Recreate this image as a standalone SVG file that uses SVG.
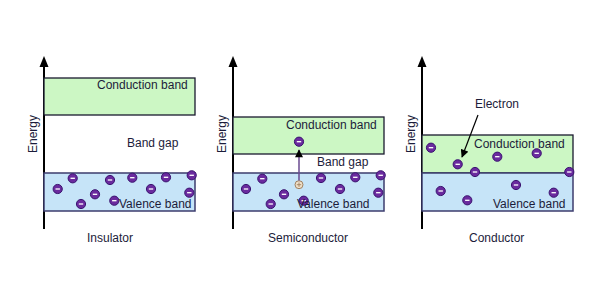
<svg xmlns="http://www.w3.org/2000/svg" width="600" height="300" viewBox="0 0 600 300">
<defs>
<style>
text{font-family:"Liberation Sans",Arial,sans-serif;font-size:12px;fill:#1c1c3a}
.cb{fill:#ccf7c4;stroke:#1a1a2e;stroke-width:1.3}
.vb{fill:#c6e4f8;stroke:#3c3c6e;stroke-width:1.5}
.ax{stroke:#000;stroke-width:2;fill:none}
.ah{fill:#000}
</style>
<g id="e">
<circle r="4.6" fill="#6a2a9e" stroke="#3a1470" stroke-width="1"/>
<line x1="-2.2" y1="0" x2="2.2" y2="0" stroke="#fff" stroke-width="1.3"/>
</g>
<marker id="arr" viewBox="0 0 10 10" refX="9" refY="5" markerWidth="9" markerHeight="8" markerUnits="userSpaceOnUse" orient="auto-start-reverse">
<path d="M0,0 L10,5 L0,10 z" fill="#000"/>
</marker>
</defs>
<rect width="600" height="300" fill="#fff"/>

<g id="insulator">
<line class="ax" x1="44" y1="66" x2="44" y2="229"/>
<polygon class="ah" points="44,56 39.5,67 48.5,67"/>
<rect class="cb" x="44" y="78" width="151" height="37"/>
<rect class="vb" x="44" y="173" width="151" height="38"/>
<text x="97" y="89">Conduction band</text>
<text x="127" y="147">Band gap</text>
<text transform="translate(37,134) rotate(-90)" text-anchor="middle">Energy</text>
<use href="#e" x="72.7" y="178.3"/>
<use href="#e" x="57.7" y="189"/>
<use href="#e" x="81" y="204"/>
<use href="#e" x="95" y="194.3"/>
<use href="#e" x="110" y="180"/>
<use href="#e" x="114.3" y="200.7"/>
<use href="#e" x="132.3" y="177.7"/>
<use href="#e" x="151" y="189"/>
<use href="#e" x="166" y="177.3"/>
<use href="#e" x="191.7" y="175.3"/>
<use href="#e" x="189.3" y="192.7"/>
<text x="119" y="208">Valence band</text>
<text x="87" y="242">Insulator</text>
</g>

<g id="semiconductor">
<line class="ax" x1="233" y1="66" x2="233" y2="229"/>
<polygon class="ah" points="233,56 228.5,67 237.5,67"/>
<rect class="cb" x="233" y="117" width="151" height="37"/>
<rect class="vb" x="233" y="173" width="151" height="38"/>
<text x="286" y="129">Conduction band</text>
<text x="317" y="166">Band gap</text>
<text transform="translate(226,134) rotate(-90)" text-anchor="middle">Energy</text>
<use href="#e" x="299" y="141.7"/>
<use href="#e" x="262.3" y="178.7"/>
<use href="#e" x="246" y="189"/>
<use href="#e" x="270.7" y="204"/>
<use href="#e" x="284" y="194.3"/>
<use href="#e" x="303.7" y="200.7"/>
<use href="#e" x="321" y="178"/>
<use href="#e" x="340" y="189"/>
<use href="#e" x="355.3" y="177.3"/>
<use href="#e" x="380.7" y="175.3"/>
<use href="#e" x="378.3" y="192.7"/>
<g id="hole">
<circle cx="299" cy="184.7" r="4" fill="#efe0c8" stroke="#a08060" stroke-width="1"/>
<line x1="296.8" y1="184.7" x2="301.2" y2="184.7" stroke="#a08060" stroke-width="0.9"/>
<line x1="299" y1="182.5" x2="299" y2="186.9" stroke="#a08060" stroke-width="0.9"/>
</g>
<text x="297" y="208">Valence band</text>
<text x="268" y="242">Semiconductor</text>
</g>

<g id="conductor">
<line class="ax" x1="422" y1="66" x2="422" y2="229"/>
<polygon class="ah" points="422,56 417.5,67 426.5,67"/>
<rect class="cb" x="422" y="135" width="151" height="38"/>
<rect class="vb" x="422" y="173" width="151" height="38"/>
<text x="474" y="148">Conduction band</text>
<text transform="translate(415,134) rotate(-90)" text-anchor="middle">Energy</text>
<text x="475" y="108">Electron</text>
<use href="#e" x="431" y="147.7"/>
<use href="#e" x="457.7" y="164.3"/>
<use href="#e" x="475" y="172"/>
<use href="#e" x="497.3" y="156.7"/>
<use href="#e" x="536.7" y="153.3"/>
<use href="#e" x="569.3" y="172"/>
<use href="#e" x="440.7" y="191"/>
<use href="#e" x="467.3" y="200.3"/>
<use href="#e" x="516" y="185"/>
<use href="#e" x="553.7" y="192.7"/>
<text x="493" y="208">Valence band</text>
<text x="469" y="242">Conductor</text>
</g>

<g id="connectors">
<line x1="299" y1="180.5" x2="299" y2="150" stroke="#6a4a90" stroke-width="1.5" marker-end="url(#arr)"/>
<line x1="478" y1="115" x2="462" y2="157" stroke="#000" stroke-width="1.2" marker-end="url(#arr)"/>
</g>
</svg>
